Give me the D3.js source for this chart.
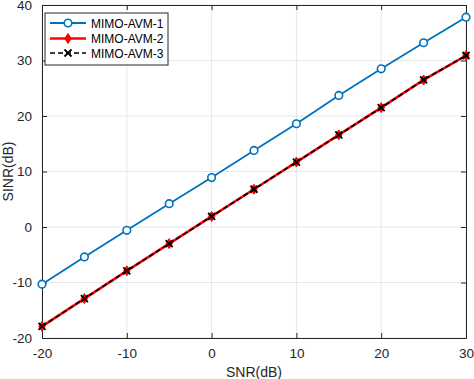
<!DOCTYPE html>
<html>
<head>
<meta charset="utf-8">
<style>
  body { margin: 0; background: #fff; }
  text { font-family: "Liberation Sans", Arial, sans-serif; }
</style>
<script src="https://cdn.jsdelivr.net/npm/d3@7"></script>
</head>
<body>
<script>
// data
var snr = [-20, -15, -10, -5, 0, 5, 10, 15, 20, 25, 30];
var avm1 = [-10.3, -5.4, -0.6, 4.2, 8.9, 13.8, 18.6, 23.7, 28.5, 33.2, 37.8];
var avm2 = [-17.9, -12.9, -7.9, -3.0, 1.9, 6.8, 11.7, 16.6, 21.5, 26.5, 30.9];
var avm3 = [-17.9, -12.9, -7.9, -3.0, 1.9, 6.8, 11.7, 16.6, 21.5, 26.5, 30.9];
var xTicks = [-20, -10, 0, 10, 20, 30];
var yTicks = [-20, -10, 0, 10, 20, 30, 40];
var names = ["MIMO-AVM-1", "MIMO-AVM-2", "MIMO-AVM-3"];

var W = 474, H = 379;
var margin = {top: 5, right: 8, bottom: 41, left: 42};
var width = W - margin.left - margin.right,
    height = H - margin.top - margin.bottom;

var svg = d3.select("body").append("svg")
    .attr("width", W).attr("height", H);
var g = svg.append("g")
    .attr("transform", `translate(${margin.left},${margin.top})`);

var x = d3.scaleLinear().domain([-20, 30]).range([0, width]);
var y = d3.scaleLinear().domain([-20, 40]).range([height, 0]);

// grid
g.selectAll(".gx").data(xTicks).enter().append("line")
    .attr("x1", d => x(d)).attr("x2", d => x(d))
    .attr("y1", 0).attr("y2", height)
    .attr("stroke", "#e6e6e6").attr("stroke-width", 1);
g.selectAll(".gy").data(yTicks).enter().append("line")
    .attr("y1", d => y(d)).attr("y2", d => y(d))
    .attr("x1", 0).attr("x2", width)
    .attr("stroke", "#e6e6e6").attr("stroke-width", 1);

// axes, ticks inward like matlab
var axCol = "#262626";
var fmt = d => String(d);
var xb = g.append("g").attr("transform", `translate(0,${height})`)
    .call(d3.axisBottom(x).tickValues(xTicks).tickSize(-5).tickPadding(10).tickFormat(fmt));
var xt = g.append("g")
    .call(d3.axisTop(x).tickValues(xTicks).tickSize(-5).tickFormat(""));
var yl = g.append("g")
    .call(d3.axisLeft(y).tickValues(yTicks).tickSize(-5).tickPadding(10).tickFormat(fmt));
var yr = g.append("g").attr("transform", `translate(${width},0)`)
    .call(d3.axisRight(y).tickValues(yTicks).tickSize(-5).tickFormat(""));
[xb, xt, yl, yr].forEach(a => {
  a.select(".domain").attr("stroke", axCol).attr("stroke-width", 1);
  a.selectAll(".tick line").attr("stroke", axCol);
  a.selectAll("text").attr("fill", axCol).style("font-size", "13.5px")
    .style("font-family", "'Liberation Sans', Arial, sans-serif");
});

svg.append("text").text("SNR(dB)")
    .attr("x", margin.left + width / 2).attr("y", 377)
    .attr("text-anchor", "middle").attr("fill", axCol).style("font-size", "14px");
svg.append("text").text("SINR(dB)")
    .attr("transform", `translate(13,${margin.top + height / 2}) rotate(-90)`)
    .attr("text-anchor", "middle").attr("fill", axCol).style("font-size", "14px");

var line = d3.line().x((d, i) => x(snr[i])).y(d => y(d));

// series 1
g.append("path").datum(avm1).attr("d", line)
    .attr("fill", "none").attr("stroke", "#0072BD").attr("stroke-width", 1.8);
g.selectAll(".m1").data(avm1).enter().append("circle")
    .attr("cx", (d, i) => x(snr[i])).attr("cy", d => y(d)).attr("r", 3.8)
    .attr("fill", "#fff").attr("stroke", "#0072BD").attr("stroke-width", 1.6);

// series 2
var diamond = "M0,-5 L3.2,0 L0,5 L-3.2,0 Z";
g.append("path").datum(avm2).attr("d", line)
    .attr("fill", "none").attr("stroke", "#ff0000").attr("stroke-width", 2.6);
g.selectAll(".m2").data(avm2).enter().append("path")
    .attr("d", diamond)
    .attr("transform", (d, i) => `translate(${x(snr[i])},${y(d)})`)
    .attr("fill", "#ff0000").attr("stroke", "#ff0000").attr("stroke-width", 1);

// series 3
var cross = "M-3.5,-3.5 L3.5,3.5 M-3.5,3.5 L3.5,-3.5";
g.append("path").datum(avm3).attr("d", line)
    .attr("fill", "none").attr("stroke", "#000").attr("stroke-width", 1.6)
    .attr("stroke-dasharray", "5,3");
g.selectAll(".m3").data(avm3).enter().append("path")
    .attr("d", cross)
    .attr("transform", (d, i) => `translate(${x(snr[i])},${y(d)})`)
    .attr("stroke", "#000").attr("stroke-width", 1.8);

// legend
var lg = svg.append("g").attr("transform", "translate(45,13)");
lg.append("rect").attr("width", 123).attr("height", 52)
    .attr("fill", "#fff").attr("stroke", axCol).attr("stroke-width", 1);
var rowY = [10, 25.5, 40];
names.forEach((n, i) => {
  var ry = rowY[i];
  var ln = lg.append("line").attr("x1", 5).attr("x2", 41).attr("y1", ry).attr("y2", ry);
  if (i == 0) {
    ln.attr("stroke", "#0072BD").attr("stroke-width", 1.8);
    lg.append("circle").attr("cx", 23).attr("cy", ry).attr("r", 3.8)
      .attr("fill", "#fff").attr("stroke", "#0072BD").attr("stroke-width", 1.6);
  } else if (i == 1) {
    ln.attr("stroke", "#ff0000").attr("stroke-width", 2.6);
    lg.append("path").attr("d", diamond).attr("transform", `translate(23,${ry})`)
      .attr("fill", "#ff0000").attr("stroke", "#ff0000");
  } else {
    ln.attr("stroke", "#000").attr("stroke-width", 1.6).attr("stroke-dasharray", "5,3");
    lg.append("path").attr("d", cross).attr("transform", `translate(23,${ry})`)
      .attr("stroke", "#000").attr("stroke-width", 1.8);
  }
  lg.append("text").text(n).attr("x", 46).attr("y", ry + 4.5)
    .attr("fill", "#000").style("font-size", "12px");
});
</script>
</body>
</html>
